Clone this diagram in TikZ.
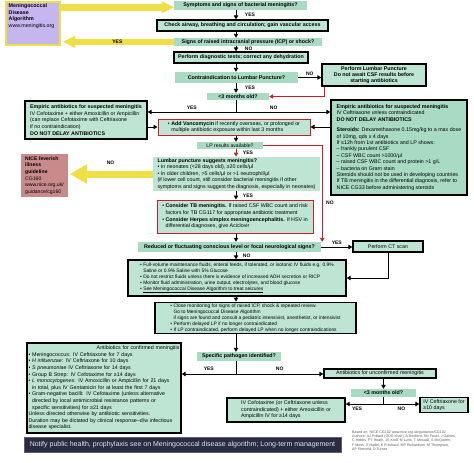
\documentclass[tikz,border=0pt]{standalone}
\usepackage{fontspec}
\setmainfont{Liberation Sans}
\usetikzlibrary{arrows.meta}
\definecolor{qfill}{HTML}{A8DAC4}
\definecolor{bfill}{HTML}{BEE5D4}
\definecolor{redline}{HTML}{C81E2A}
\definecolor{yel}{HTML}{EFDF45}
\definecolor{lav}{HTML}{C6B6F0}
\definecolor{rose}{HTML}{C98A8C}
\definecolor{navy}{HTML}{2A2C44}
\definecolor{bannertext}{HTML}{E4E4EC}
\newcommand{\bfnt}{\fontsize{5.3}{6.6}\selectfont}
\newcommand{\sfnt}{\fontsize{4.9}{6.0}\selectfont}
\newcommand{\qfnt}{\fontsize{5.3}{6.2}\selectfont\bfseries}
\newcommand{\labfnt}{\fontsize{5}{6}\selectfont\bfseries}

\begin{document}
\begin{tikzpicture}[x=1pt,y=-1pt,
  every node/.style={inner sep=1.5pt},
  qbox/.style={fill=qfill,inner sep=0.5pt,font=\qfnt},
  actbox/.style={fill=bfill,draw=black,line width=1.3pt,font=\bfnt,align=left},
  redbox/.style={fill=bfill,draw=redline,line width=1pt,font=\bfnt,align=left},
  arr/.style={line width=0.9pt,-{Triangle[length=4pt,width=4.4pt]}},
  redarr/.style={arr,draw=redline},
  lab/.style={font=\labfnt,inner sep=0.5pt,text=black},
  yelarrow/.style={draw=yel,line width=6.5pt,-{Triangle[length=12pt,width=12pt,line width=0pt]}},
  bigyelarrow/.style={draw=yel,line width=7pt,-{Triangle[length=17pt,width=20pt,line width=0pt]}}]
\path[use as bounding box,fill=white] (0,0) rectangle (474,463);
\coordinate (axis) at (236,0);

\node[draw=yel,line width=2pt,fill=lav,minimum width=54pt,minimum height=43pt] (alg) at (33,23.5) {};
\node[anchor=north west,align=left,inner sep=0pt,font=\fontsize{5.3}{6.7}\selectfont] (algtext) at (8.5,3.5) {\textbf{Meningococcal}\\\textbf{Disease}\\\textbf{Algorithm}\\www.meningitis.org};

\node[qbox,minimum width=133pt,minimum height=9.5pt] (symptoms) at (240.5,5.25) {Symptoms and signs of bacterial meningitis?};
\node[actbox,font=\qfnt,minimum width=171pt,minimum height=11pt] (airway) at (242.5,25.5) {Check airway, breathing and circulation; gain vascular access};
\node[qbox,minimum width=148pt,minimum height=7.5pt] (icp) at (248,41.75) {Signs of raised intracranial pressure (ICP) or shock?};
\node[actbox,font=\qfnt,minimum width=134pt,minimum height=11pt] (diag) at (241,57.5) {Perform diagnostic tests; correct any dehydration};
\node[qbox,minimum width=123pt,minimum height=11pt] (contra) at (236.5,77.5) {Contraindication to Lumbar Puncture?};
\node[actbox,font=\qfnt,align=center,minimum width=104pt,minimum height=22pt] (lp) at (374,75) {Perform Lumbar Puncture\\Do not await CSF results before\\starting antibiotics};
\node[qbox,minimum width=62pt,minimum height=7pt] (young1) at (238,96.5) {<3 months old?};

\node[actbox,minimum width=122pt,minimum height=38pt] (empL) at (86,120) {\textbf{Empiric antibiotics for suspected meningitis}\\IV Cefotaxime + either Amoxicillin or Ampicillin\\(can replace Cefotaxime with Ceftriaxone\\if no contraindication)\\\textbf{DO NOT DELAY ANTIBIOTICS}};
\node[actbox,fill=qfill,font=\fontsize{5.3}{6.4}\selectfont,minimum width=136pt,minimum height=95pt] (empR) at (399,147.5) {\textbf{Empiric antibiotics for suspected meningitis}\\IV Ceftriaxone unless contraindicated\\\textbf{DO NOT DELAY ANTIBIOTICS}\\[4pt]\textbf{Steroids:} Dexamethasone 0.15mg/kg to a max dose\\of 10mg, qds x 4 days\\If ≤12h from 1st antibiotics and LP shows:\\– frankly purulent CSF\\– CSF WBC count >1000/μl\\– raised CSF WBC count and protein >1 g/L\\– bacteria on Gram stain\\Steroids should not be used in developing countries\\If TB meningitis in the differential diagnosis, refer to\\NICE CG33 before administering steroids};
\node[redbox,minimum width=152pt,minimum height=16pt] (vanco) at (234,127) {• \textbf{Add Vancomycin} if recently overseas, or prolonged or\\\phantom{• }multiple antibiotic exposure within last 3 months};
\node[qbox,font=\fontsize{5.1}{6}\selectfont,minimum width=66pt,minimum height=6.5pt] (lpres) at (230,145.25) {LP results available?};
\node[fill=bfill,font=\bfnt,align=left,minimum width=167pt,minimum height=32pt] (lumbar) at (236.5,174) {\textbf{Lumbar puncture suggests meningitis?}\\• In neonates (<28 days old), ≥20 cells/μl\\• In older children, >5 cells/μl or >1 neutrophil/μl\\(if lower cell count, still consider bacterial meningitis if other\\symptoms and signs suggest the diagnosis, especially in neonates)};
\node[fill=rose,inner sep=1pt,align=left,font=\fontsize{5.1}{6.6}\selectfont,minimum width=47pt,minimum height=43pt] (nice) at (44.5,175.5) {\textbf{NICE feverish}\\\textbf{illness}\\\textbf{guideline}\\CG160\\www.nice.org.uk/\\guidance/cg160};
\node[redbox,minimum width=156pt,minimum height=33pt] (tb) at (235,216.5) {• \textbf{Consider TB meningitis.} If raised CSF WBC count and risk\\\phantom{• }factors for TB CG117 for appropriate antibiotic treatment\\• \textbf{Consider Herpes simplex meningoencephalitis.} If HSV in\\\phantom{• }differential diagnoses, give Aciclovir};

\node[qbox,minimum width=183pt,minimum height=10pt] (reduced) at (229.5,247) {Reduced or fluctuating conscious level or focal neurological signs?};
\node[actbox,align=center,minimum width=70pt,minimum height=11pt] (ct) at (388,246.5) {Perform CT scan};
\node[actbox,font=\sfnt,minimum width=218pt,minimum height=36pt] (fluids) at (237,278) {• Full-volume maintenance fluids, enteral feeds, if tolerated, or isotonic IV fluids e.g. 0.9\%\\\phantom{• }Saline or 0.9\% Saline with 5\% Glucose\\• Do not restrict fluids unless there is evidence of increased ADH secretion or RICP\\• Monitor fluid administration, urine output, electrolytes, and blood glucose\\• \underline{See Meningococcal Disease Algorithm to treat seizures}};
\node[actbox,font=\sfnt,minimum width=201pt,minimum height=29pt] (monitor) at (255.5,318) {• Close monitoring for signs of raised ICP, shock \& repeated review.\\\phantom{• }Go to Meningococcal Disease Algorithm\\\phantom{• }if signs are found and consult a pediatric intensivist, anesthetist, or intensivist\\• Perform delayed LP if no longer contraindicated\\• If LP contraindicated, perform delayed LP when no longer contraindications};
\node[qbox,minimum width=84pt,minimum height=9pt] (pathogen) at (239,356.5) {Specific pathogen identified?};

\node[actbox,text width=151pt,minimum height=90pt] (confirmed) at (104,388) {\hspace*{\fill}Antibiotics for confirmed meningitis\hspace*{\fill}\\• Meningococcus: IV Ceftriaxone for 7 days\\• \textit{H influenzae}: IV Ceftriaxone for 10 days\\• \textit{S pneumoniae} IV Ceftriaxone for 14 days\\• Group B Strep: IV Cefotaxime for ≥14 days\\• \textit{L monocytogenes}: IV Amoxicillin or Ampicillin for 21 days\\\phantom{• }in total, plus IV Gentamicin for at least the first 7 days\\• Gram-negative bacilli: IV Cefotaxime (unless alternative\\\phantom{• }directed by local antimicrobial resistance patterns or\\\phantom{• }specific sensitivities) for ≥21 days\\Unless directed otherwise by antibiotic sensitivities.\\Duration may be dictated by clinical response–d/w infectious\\disease specialist.};
\node[actbox,align=center,minimum width=112pt,minimum height=9pt] (unconf) at (380,373.5) {Antibiotics for unconfirmed meningitis};
\node[qbox,minimum width=65pt,minimum height=8pt] (young2) at (383.5,393) {<3 months old?};
\node[actbox,minimum width=118pt,minimum height=24pt] (cefotax) at (286,410) {IV Cefotaxime (or Ceftriaxone unless\\contraindicated) + either Amoxicillin or\\Ampicillin IV for ≥14 days};
\node[actbox,minimum width=48pt,minimum height=14pt] (ceftri) at (444,405) {IV Ceftriaxone for\\≥10 days};

\node[fill=navy,draw=gray!60!navy,line width=0.8pt,text=bannertext,font=\fontsize{7}{8}\selectfont,minimum width=317pt,minimum height=15pt] (banner) at (182.5,444.5) {Notify public health, prophylaxis see on Meningococcal disease algorithm; Long-term management};
\node[anchor=north west,align=left,inner sep=0pt,text=black!65,font=\fontsize{3.6}{4.3}\selectfont] (source) at (352,430.5) {Based on: NICE CG102 www.nice.org.uk/guidance/CG102\\Authors: AJ Pollard (GDG chair), A Bedford, SN Faust, J Gaines,\\C Hobbs, PT Heath, JS Kroll, M Lunn, T Mescall, S McQueen,\\F Moss, S Nadel, K Pritchard, MP Richardson, M Thompson,\\AP Rietveld, D Turner};

\coordinate (topin) at ([yshift=-2pt]symptoms.west);
\draw[yelarrow] (alg.east |- topin) -- (topin);
\draw[arr] (symptoms.south -| axis) -- node[lab,right=8pt] {YES} (airway.north -| axis);
\draw[arr] (airway.south -| axis) -- (icp.north -| axis);
\draw[yelarrow,shorten >=2pt] (icp.west) -- node[lab] {YES} (icp.west -| alg.east);
\draw[arr] (icp.south -| axis) -- node[lab,right=8pt] {NO} (diag.north -| axis);
\draw[arr] (diag.south -| axis) -- (contra.north -| axis);
\draw[arr] (contra.east) -- node[lab,above=1pt] {NO} (contra.east -| lp.west);
\draw[redarr] ([xshift=3pt]lp.south west) |- (young1.east);
\draw[arr] (contra.south -| axis) -- node[lab,right=8pt] {YES} (young1.north -| axis);

\coordinate (split1) at (236,112);
\draw[line width=0.9pt] (young1.south -| axis) -- (split1);
\draw[arr] (split1) -- node[lab,above=1.5pt] {YES} (split1 -| empL.east);
\draw[arr] (split1) -- node[lab,above=1.5pt,pos=0.4] {NO} (split1 -| empR.west);
\draw[arr] (empL.east |- vanco.west) -- (vanco.west);
\draw[arr] (empR.west |- vanco.east) -- (vanco.east);
\draw[arr] (vanco.south -| axis) -- (lpres.north -| axis);
\draw[redarr] (lpres.south -| axis) -- node[lab,right=6pt] {YES} (lumbar.north -| axis);
\draw[redarr] (lpres.east) -| node[lab,right=3pt,pos=0.8] {NO} ([xshift=1pt]reduced.north east);
\draw[bigyelarrow,shorten >=2pt] (lumbar.west) -- node[lab,above=5pt] {NO} (lumbar.west -| nice.east);
\draw[arr] (lumbar.south -| axis) -- node[lab,right=6pt] {YES} (tb.north -| axis);
\draw[arr] (tb.south -| axis) -- (reduced.north -| axis);

\draw[arr] (reduced.east) -- node[lab,above=1.5pt] {YES} (reduced.east -| ct.west);
\draw[arr] (ct.south) |- (fluids.east);
\draw[arr] (reduced.south -| axis) -- node[lab,right=6pt] {NO} (fluids.north -| axis);
\draw[arr] (fluids.south -| axis) -- (monitor.north -| axis);
\draw[arr] (monitor.south -| axis) -- (pathogen.north -| axis);

\coordinate (split2) at (236,374);
\draw[line width=0.9pt] (pathogen.south -| axis) -- (split2);
\draw[arr] (split2) -- node[lab,above=3pt] {YES} (split2 -| confirmed.east);
\draw[arr] (split2) -- node[lab,above=3pt] {NO} (split2 -| unconf.west);
\draw[arr] (unconf.south -| young2.north) -- (young2.north);

\coordinate (split3) at (383.5,404);
\draw[line width=0.9pt] (young2.south) -- (split3);
\draw[arr] (split3) -- node[lab,below=2pt,pos=0.7] {YES} (split3 -| cefotax.east);
\draw[arr] (split3) -- node[lab,below=2pt] {NO} (split3 -| ceftri.west);
\end{tikzpicture}
\end{document}
